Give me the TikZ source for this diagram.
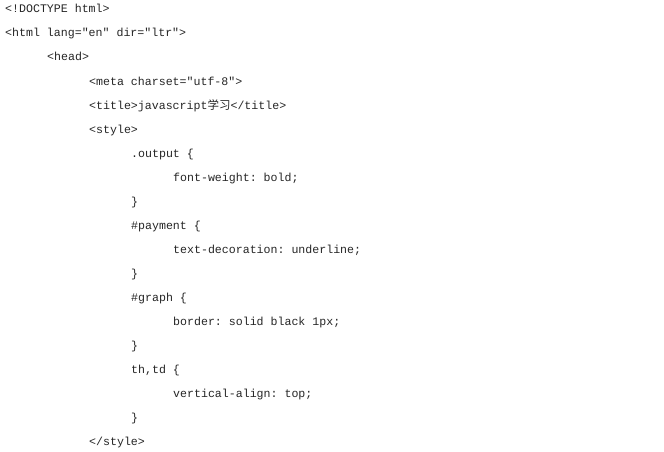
\documentclass[tikz,border=0pt]{standalone}
\usepackage{fontspec}
\setmonofont{Liberation Mono}
\newfontfamily\cjk{Noto Sans CJK SC}
\begin{document}
\begin{tikzpicture}[x=1pt,y=-1pt,
  codeline/.style={anchor=base west,inner sep=0pt,font=\ttfamily\fontsize{11.6}{12}\selectfont,text=black!85}]
\useasboundingbox[fill=white] (0,0) rectangle (664,452);
\node[codeline] (l1) at (5,13) {<!DOCTYPE html>};
\node[codeline] (l2) at (5,37) {<html lang="en" dir="ltr">};
\node[codeline] (l3) at (47,61) {<head>};
\node[codeline] (l4) at (89,85) {<meta charset="utf-8">};
\node[codeline] (l5) at (89,109) {<title>javascript{\cjk\fontsize{11.5}{12}\selectfont 学习}</title>};
\node[codeline] (l6) at (89,133) {<style>};
\node[codeline] (l7) at (131,157) {.output \{};
\node[codeline] (l8) at (173,181) {font-weight: bold;};
\node[codeline] (l9) at (131,205) {\}};
\node[codeline] (l10) at (131,229) {\#payment \{};
\node[codeline] (l11) at (173,253) {text-decoration: underline;};
\node[codeline] (l12) at (131,277) {\}};
\node[codeline] (l13) at (131,301) {\#graph \{};
\node[codeline] (l14) at (173,325) {border: solid black 1px;};
\node[codeline] (l15) at (131,349) {\}};
\node[codeline] (l16) at (131,373) {th,td \{};
\node[codeline] (l17) at (173,397) {vertical-align: top;};
\node[codeline] (l18) at (131,421) {\}};
\node[codeline] (l19) at (89,445) {</style>};
\end{tikzpicture}
\end{document}
